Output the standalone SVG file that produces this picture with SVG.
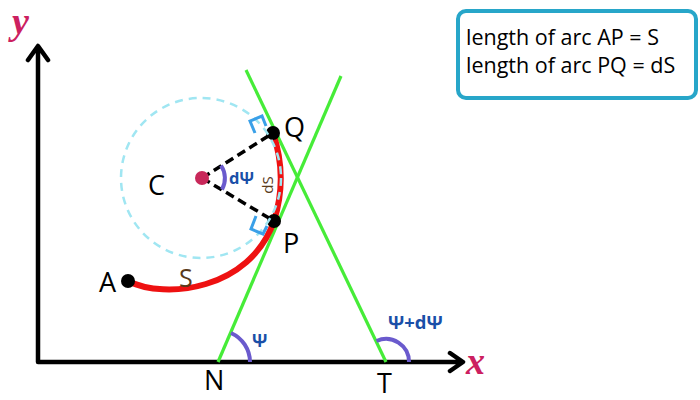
<svg xmlns="http://www.w3.org/2000/svg" width="700" height="400" viewBox="0 0 700 400">
<style>
.lbl{font-family:"Open Sans","Liberation Sans",sans-serif;font-size:27px;fill:#000}
.axl{font-family:"Liberation Serif",serif;font-style:italic;font-weight:bold;font-size:38px;fill:#cc2060}
.ang{font-family:"Open Sans","Liberation Sans",sans-serif;font-weight:bold;fill:#1a4fa8}
.brn{font-family:"Open Sans","Liberation Sans",sans-serif;fill:#5a3a1a}
.box{font-family:"Open Sans","Liberation Sans",sans-serif;font-size:21.5px;fill:#000}
.axis{stroke:#000;stroke-width:4.5;fill:none;stroke-linecap:round;stroke-linejoin:round}
.green{stroke:#46ec38;stroke-width:3.2;fill:none}
.arcp{stroke:#6a5acd;stroke-width:4;fill:none}
.mark{stroke:#3aa0e8;stroke-width:3;fill:none}
.rad{stroke:#000;stroke-width:3.5;stroke-dasharray:9 5;fill:none}
</style>
<rect width="700" height="400" fill="#fff"/>
<g id="axes">
<path class="axis" d="M38,362 L38,48 M28,60 L38,46 L48,60 M38,362 L462,362 M450,353 L463,362 L450,371"/>
<text class="axl" x="12" y="34">y</text>
<text class="axl" x="466" y="374">x</text>
</g>
<g id="connectors">
<line class="green" x1="218" y1="362" x2="341" y2="76"/>
<line class="green" x1="246" y1="70" x2="386" y2="362"/>
<path d="M128,281 C165,300 250,290 274,221 Q288,177 273,133" stroke="#ee1111" stroke-width="6" fill="none"/>
<line class="rad" x1="202" y1="178" x2="273" y2="133"/>
<line class="rad" x1="202" y1="178" x2="274" y2="221"/>
<path class="arcp" d="M221,165.5 A23,23 0 0 1 222,189.5"/>
<path class="arcp" d="M231,333 A32,32 0 0 1 250,362"/>
<path class="arcp" d="M376.5,341 A23,23 0 0 1 409,362"/>
</g>
<g id="A"><circle cx="128" cy="281" r="7" fill="#000"/><text class="lbl" x="99" y="292">A</text></g>
<g id="P"><circle cx="274" cy="221" r="7" fill="#000"/><text class="lbl" x="283" y="253">P</text></g>
<g id="Q"><circle cx="273" cy="133" r="7" fill="#000"/><text class="lbl" x="284" y="137">Q</text></g>
<g id="C"><circle cx="202" cy="178" r="7" fill="#c8285a"/><text class="lbl" x="148" y="195">C</text></g>
<g id="circle"><circle cx="201" cy="178" r="80" stroke="#a0e6f2" stroke-width="2.5" stroke-dasharray="8 6" fill="none"/></g>
<g id="markers">
<polyline class="mark" points="255,133 250,121 262,116 266,126"/>
<polyline class="mark" points="256,216 251,229 263,234 267,226"/>
</g>
<g id="N"><text class="lbl" x="204" y="390">N</text></g>
<g id="T"><text class="lbl" x="377" y="393">T</text></g>
<g id="labels">
<text class="ang" font-size="16.5" x="229" y="184">dΨ</text>
<text class="ang" font-size="17.5" x="252" y="347">Ψ</text>
<text class="ang" font-size="18.5" x="388" y="329">Ψ+dΨ</text>
<text class="brn" font-size="15" transform="translate(273,185) rotate(-90)" text-anchor="middle">dS</text>
<text class="brn" font-size="25" x="179" y="287">S</text>
</g>
<g id="box">
<rect x="458" y="11" width="238" height="87" rx="8" fill="#fff" stroke="#27a6c9" stroke-width="4"/>
<text class="box" x="466" y="45">length of arc AP = S</text>
<text class="box" x="466" y="73">length of arc PQ = dS</text>
</g>
</svg>
